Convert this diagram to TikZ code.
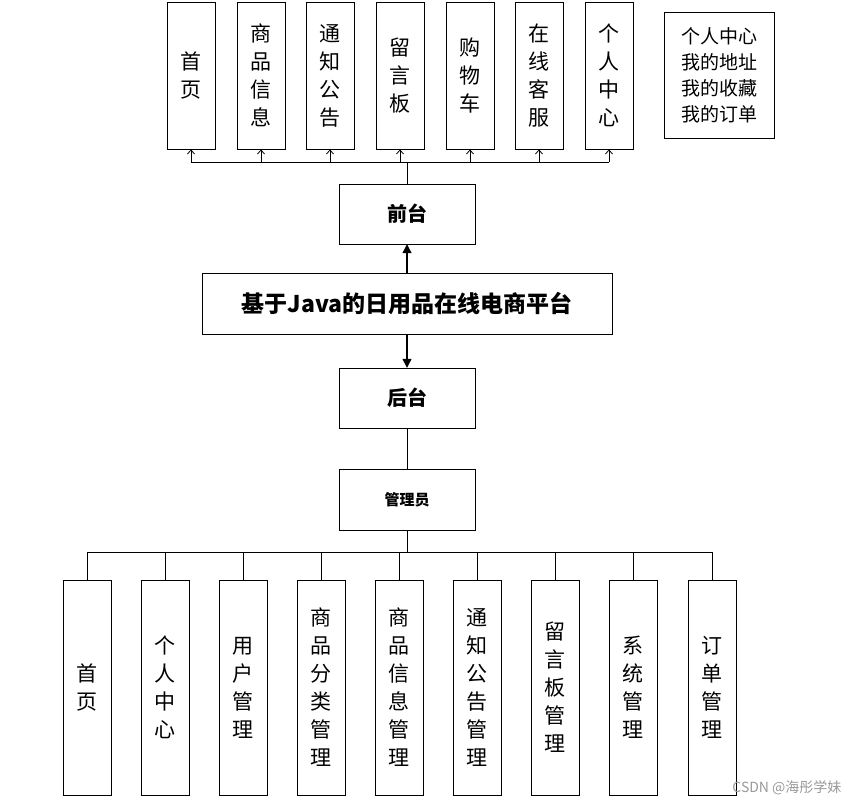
\documentclass[tikz,border=0pt]{standalone}
\usepackage{fontspec}
\newfontfamily\cjk{Noto Sans CJK SC}
\usetikzlibrary{arrows.meta}
\begin{document}
\begin{tikzpicture}[x=1pt,y=-1pt,
  vbox/.style={draw,thick,minimum width=48pt,align=center,font=\cjk\fontsize{21}{28}\selectfont,inner sep=0pt},
  hbox/.style={draw,minimum width=136pt,minimum height=60pt,font=\cjk\bfseries\fontsize{20}{22}\selectfont},
  line/.style={thick},
  upar/.style={thick,-{Straight Barb[length=4pt,width=7pt]}},
  bigar/.style={very thick,-{Triangle[length=9pt,width=9pt]}}]
\useasboundingbox (0,0) rectangle (859,806);
% top boxes
\foreach \n/\x/\t in {t1/191/首\\页, t2/261/商\\品\\信\\息, t3/330/通\\知\\公\\告, t4/400/留\\言\\板, t5/470/购\\物\\车, t6/539/在\\线\\客\\服, t7/609/个\\人\\中\\心}
  \node[vbox,minimum height=147pt] (\n) at (\x,75.5) {\t};
\node[draw,thick,minimum width=110pt,minimum height=126pt,align=center,font=\cjk\fontsize{19}{26}\selectfont,inner sep=0pt] (side) at (719,75) {个人中心\\我的地址\\我的收藏\\我的订单};
\node[hbox] (qt) at (407,214) {前台};
\node[draw,minimum width=410pt,minimum height=61pt,font=\cjk\bfseries\fontsize{23}{26}\selectfont] (title) at (407,303.5) {基于Java的日用品在线电商平台};
\node[hbox] (ht) at (407,398) {后台};
\node[hbox,font=\cjk\bfseries\fontsize{15}{18}\selectfont,minimum height=61pt] (adm) at (407,499.5) {管理员};
\coordinate (bt) at (407,162);
\draw[line] (t1.south|-bt) -- (t7.south|-bt);
\draw[line] (qt.north) -- (bt);
\foreach \n in {t1,t2,t3,t4,t5,t6,t7} \draw[upar] (\n.south|-bt) -- (\n.south);
\draw[bigar] (title.north) -- (qt.south);
\draw[bigar] (title.south) -- (ht.north);
\draw[line] (ht.south) -- (adm.north);
% bottom
\foreach \n/\x/\t in {b1/87/首\\页, b2/165/个\\人\\中\\心, b3/243/用\\户\\管\\理, b4/321/商\\品\\分\\类\\管\\理, b5/399/商\\品\\信\\息\\管\\理, b6/477/通\\知\\公\\告\\管\\理, b7/555/留\\言\\板\\管\\理, b8/633/系\\统\\管\\理, b9/712/订\\单\\管\\理}
  \node[vbox,minimum height=215pt] (\n) at (\x,687.5) {\t};
\coordinate (bb) at (407,552);
\draw[line] (adm.south) -- (bb);
\draw[line] (b1.north|-bb) -- (b9.north|-bb);
\foreach \n in {b1,b2,b3,b4,b5,b6,b7,b8,b9} \draw[line] (\n.north|-bb) -- (\n.north);
\node[font=\cjk\fontsize{14}{16}\selectfont,text=gray!80,anchor=east] (wm) at (845,788) {CSDN @海彤学妹};
\end{tikzpicture}
\end{document}
